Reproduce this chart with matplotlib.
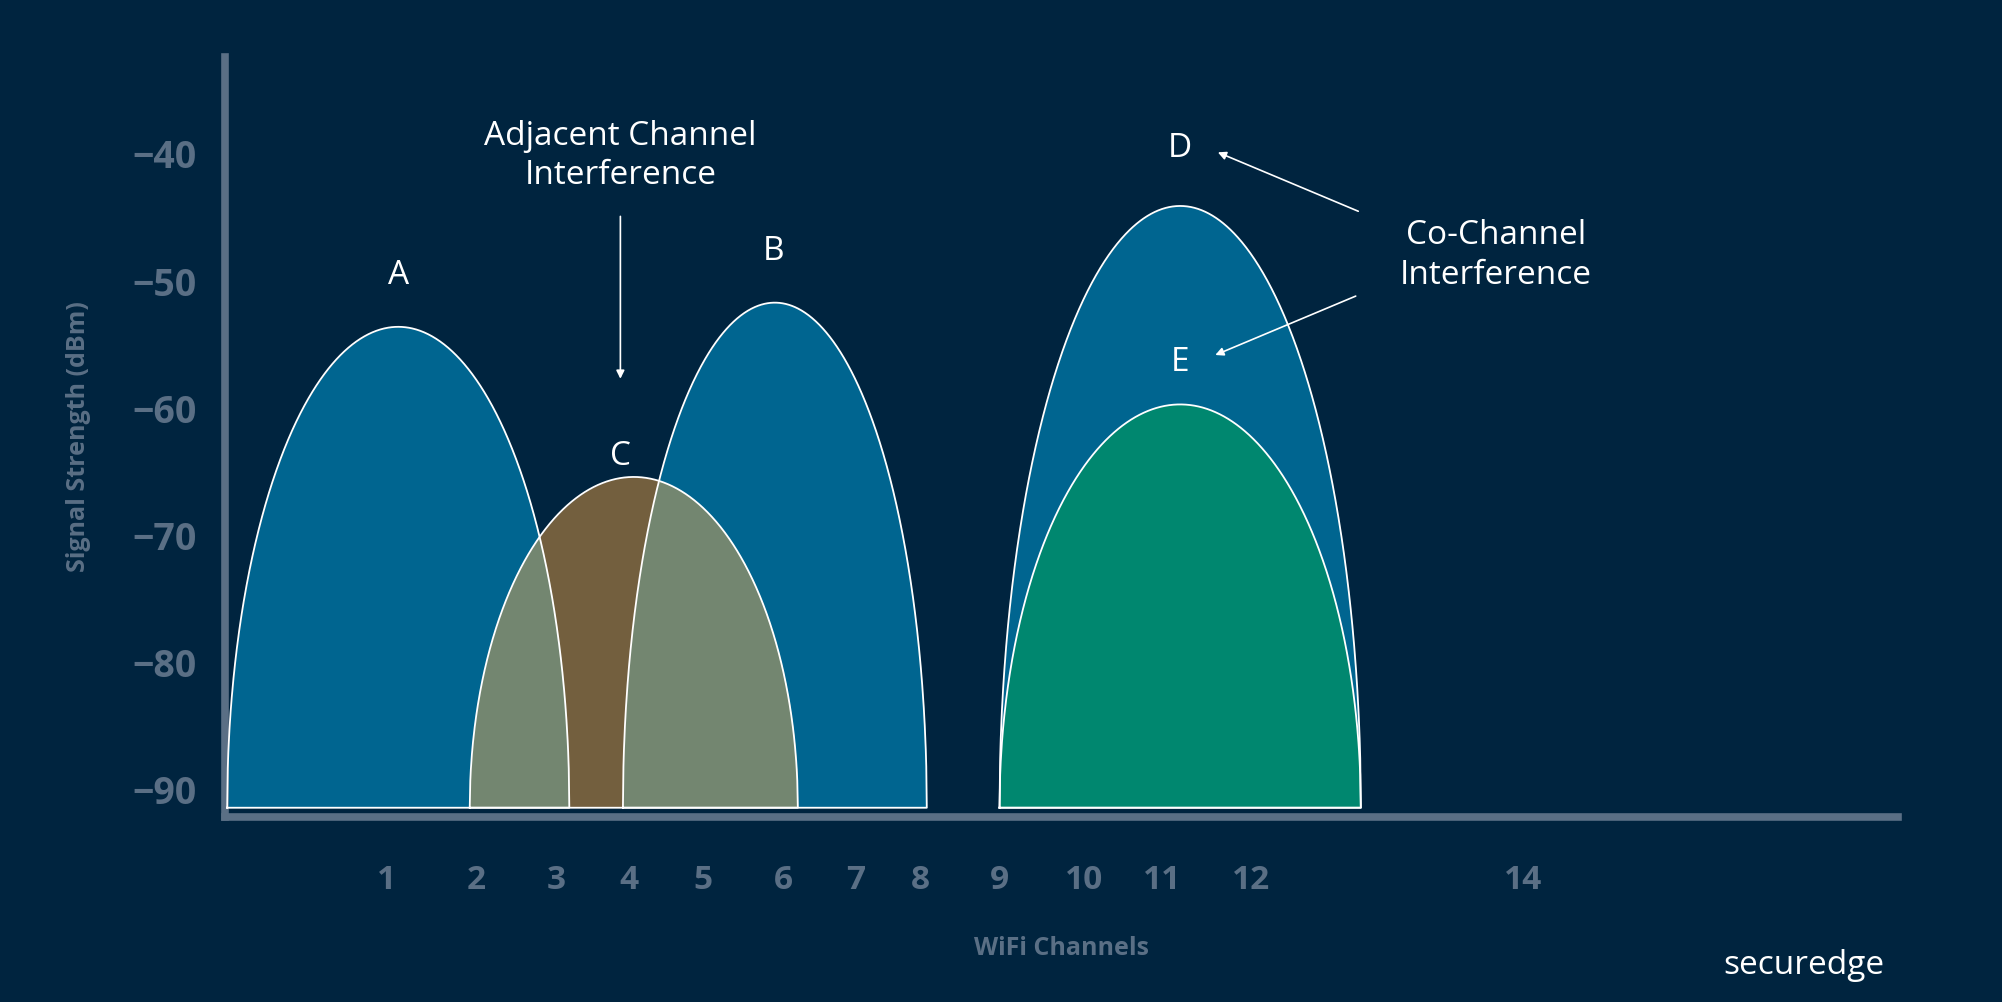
import numpy as np
import matplotlib
matplotlib.use("Agg")
import matplotlib.pyplot as plt

BG = "#00243f"
AXC = "#5a6f85"
BLUE = "#006590"
GREEN = "#738670"
BROWN = "#735f3e"
TEAL = "#00876f"

channels = ["1", "2", "3", "4", "5", "6", "7", "8", "9", "10", "11", "12", "14"]
channel_pos = [303, 373, 436, 493, 551, 614, 670, 721, 783, 849, 910, 980, 1193]
yticks = [-40, -50, -60, -70, -80, -90]

base = -91.4
signals = {
    "A": (178, 446, -53.6),
    "B": (488, 726, -51.7),
    "C": (368, 625, -65.4),
    "D": (783, 1066, -44.1),
    "E": (783, 1066, -59.7),
}
labels = {"A": (312, -49.6), "B": (606, -47.7), "C": (486, -63.8), "D": (924, -39.6), "E": (924, -56.4)}

def curve(name, x):
    l, r, p = signals[name]
    c = (l + r) / 2; w = (r - l) / 2
    u = np.clip((x - c) / w, -1, 1)
    y = base + (p - base) * np.sqrt(1 - u**2)
    return np.where((x >= l) & (x <= r), y, np.nan)

plt.rcParams['font.family'] = ['Open Sans', 'DejaVu Sans']
fig = plt.figure(figsize=(20.02, 10.02), dpi=100, facecolor=BG)
ax = fig.add_axes([0.1122, 0.185, 0.836, 0.758], facecolor=BG)
ax.set_xlim(176, 1487)
ax.set_ylim(-92.1, -32.4)

def draw(name, color):
    l, r, _ = signals[name]
    x = np.linspace(l, r, 600)
    y = curve(name, x)
    ax.fill_between(x, base, y, color=color, lw=0, zorder=2)

for n, col in [("A", BLUE), ("B", BLUE), ("C", BROWN), ("D", BLUE), ("E", TEAL)]:
    draw(n, col)

xc = np.linspace(signals["C"][0], signals["C"][1], 800)
yc = curve("C", xc)
for other in ["A", "B"]:
    yo = curve(other, xc)
    m = np.where(np.isnan(yo), np.nan, np.fmin(yc, yo))
    ax.fill_between(xc, base, m, where=~np.isnan(m), color=GREEN, lw=0, zorder=3)

for n in ["A", "B", "C", "D", "E"]:
    l, r, _ = signals[n]
    x = np.linspace(l, r, 600)
    y = np.nan_to_num(curve(n, x), nan=base)
    ax.plot(np.r_[l, x, r, l], np.r_[base, y, base, base], color="white", lw=1.3, zorder=4)

for n, (x, y) in labels.items():
    ax.text(x, y, n, color="white", fontsize=24, ha="center", va="center", zorder=5)

ax.text(486, -40.2, "Adjacent Channel\nInterference", color="white", fontsize=24,
        ha="center", va="center", linespacing=1.25)
ax.annotate("", xy=(486, -57.9), xytext=(486, -44.7),
            arrowprops=dict(arrowstyle="-|>", color="white", lw=1.2, mutation_scale=12))
ax.text(1172, -48.0, "Co-Channel\nInterference", color="white", fontsize=24,
        ha="center", va="center", linespacing=1.25)
ax.annotate("", xy=(952, -39.8), xytext=(1066, -44.6),
            arrowprops=dict(arrowstyle="-|>", color="white", lw=1.2, mutation_scale=12))
ax.annotate("", xy=(950, -55.9), xytext=(1064, -51.1),
            arrowprops=dict(arrowstyle="-|>", color="white", lw=1.2, mutation_scale=12))

for s in ["top", "right"]:
    ax.spines[s].set_visible(False)
for s in ["left", "bottom"]:
    ax.spines[s].set_color(AXC)
    ax.spines[s].set_linewidth(5.5)
ax.set_xticks(channel_pos, channels)
ax.set_yticks(yticks)
ax.tick_params(length=0, colors=AXC)
ax.tick_params(axis="x", pad=34, labelsize=24)
ax.tick_params(axis="y", pad=20, labelsize=27)
for t in ax.get_xticklabels() + ax.get_yticklabels():
    t.set_fontweight("bold")
ax.set_xlabel("WiFi Channels", color=AXC, fontsize=18, fontweight="bold", labelpad=28)
ax.set_ylabel("Signal Strength (dBm)", color=AXC, fontsize=18, fontweight="bold", labelpad=30)

fig.text(0.901, 0.036, "securedge", color="white", fontsize=24, ha="center", va="center")
fig.savefig("out.png", dpi=100, facecolor=BG)
